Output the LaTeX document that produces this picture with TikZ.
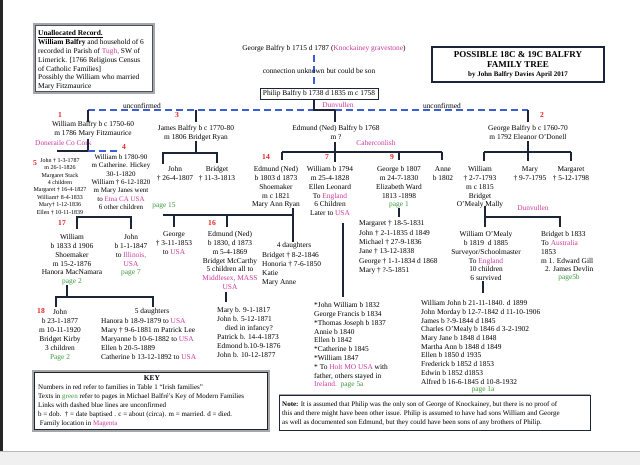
\documentclass[tikz,border=0pt]{standalone}
\usepackage{fontspec}
\setmainfont{Liberation Serif}
\definecolor{lnc}{HTML}{1C2438}
\definecolor{dblue}{HTML}{3A5FD0}
\definecolor{mag}{HTML}{CC3A9E}
\definecolor{grn}{HTML}{3A9A3A}
\definecolor{nred}{HTML}{E02424}
\newcommand{\mgt}[1]{\textcolor{mag}{#1}}
\newcommand{\grt}[1]{\textcolor{grn}{#1}}
\tikzset{
  lnk/.style={draw=lnc, line width=1.9pt},
  unc/.style={draw=dblue, line width=2pt, dash pattern=on 7pt off 4pt},
  tx/.style={inner sep=0pt, font=\fontsize{7.4}{8.8}\selectfont, align=center},
  txl/.style={inner sep=0pt, font=\fontsize{7.4}{8.8}\selectfont, align=left},
  sm/.style={inner sep=0pt, font=\fontsize{6}{7.43}\selectfont, align=center},
  num/.style={inner sep=0pt, text=nred, font=\fontsize{7.6}{8}\selectfont\bfseries},
  kt/.style={inner sep=0pt, font=\fontsize{7}{8.9}\selectfont, align=left},
}
\begin{document}
\begin{tikzpicture}[x=1pt,y=-1pt]
\useasboundingbox (0,0) rectangle (640,465);
\fill[white] (0,0) rectangle (640,465);
\fill[black!85] (0,0) rectangle (2.5,452);
\fill[gray!12] (0,452) rectangle (640,465);
\draw[gray!55, line width=1pt] (0,451.5) -- (640,451.5);

% ---------- unallocated record
\draw[gray!70, line width=1.6pt] (34,24) rectangle (154,93);
\draw[lnc!80, line width=0.5pt] (35.5,25.5) rectangle (152.5,91.5);
\node[txl, font=\fontsize{7.4}{8.83}\selectfont, anchor=north west] (unal) at (38,30.4)
 {\textbf{\underline{Unallocated Record.}}\\\textbf{William Balfry} and household of 6\\recorded in Parish of \mgt{Tugh,} SW of\\Limerick. [1766 Religious Census\\of Catholic Families]\\Possibly the William who married\\Mary Fitzmaurice};

% ---------- title
\draw[lnc, line width=1.2pt] (432,47) rectangle (604,82);
\node[inner sep=0, font=\fontsize{9}{10}\selectfont\bfseries] (t1) at (518,55) {POSSIBLE 18C \& 19C BALFRY};
\node[inner sep=0, font=\fontsize{9}{10}\selectfont\bfseries] (t2) at (518,65) {FAMILY TREE};
\node[inner sep=0, font=\fontsize{7}{8}\selectfont\bfseries] (t3) at (518,75) {by John Balfry Davies April 2017};

% ---------- top generation
\node[tx] (g1715) at (324,49) {George Balfry b 1715 d 1787 (\mgt{Knockainey gravestone})};
\coordinate (gl) at (314,55);
\node[tx, draw=lnc, line width=0.6pt, minimum width=118pt, minimum height=11pt] (philip) at (319,93.5) {Philip Balfry b 1738 d 1835 m c 1758};
\draw[unc] (gl) -- (gl |- philip.north);
\node[tx] (conn) at (319,71) {connection unknown but could be son};
\node[tx, text=mag] (dunv1) at (338,105) {Dunvullen};

\coordinate (h1) at (88,110);
\coordinate (h3) at (196,110);
\coordinate (hp) at (314,110);
\coordinate (he) at (335,110);
\coordinate (h2) at (528,110);
\draw[unc] (h1) -- (hp);
\draw[unc] (he) -- (h2);
\draw[lnk] (philip.south -| hp) -- (hp) -- (he);
\draw[lnk] (h1) -- ++(0,12);
\draw[lnk] (h3) -- ++(0,12);
\draw[lnk] (he) -- ++(0,12);
\draw[lnk] (h2) -- ++(0,12);
\node[tx] (unc1) at (142,106) {unconfirmed};
\node[tx] (unc2) at (442,106) {unconfirmed};

% ---------- family 1
\node[num] (n1) at (60,115) {1};
\node[tx, anchor=north] (f1) at (93,121.4) {William Balfry b c 1750-60\\m 1786 Mary Fitzmaurice};
\node[tx, text=mag, anchor=west] (done) at (35,143) {Doneraile Co Cork};
\coordinate (f1b) at (88,151);
\coordinate (f1t) at (88,139);
\coordinate (f1l) at (57,151);
\coordinate (f1r) at (120,151);
\draw[lnk] (f1t) -- (f1b) -- (f1l);
\draw[unc] (f1b) -- (f1r);
\node[num] (n4) at (124,147) {4};
\node[num] (n5) at (35,163) {5};
\node[sm, anchor=north] (f5a) at (60,157.9) {John † 1-3-1787\\m 26-1-1826\\Margaret Stack\\4 children};
\node[sm, anchor=north] (f5b) at (60,187.6) {Margaret † 16-4-1827\\William† 8-4-1833\\Mary† 1-12-1836\\Ellen † 10-11-1839};
\node[inner sep=0, align=center, font=\fontsize{7}{8.33}\selectfont, anchor=north] (f4) at (121,154.6) {William b 1780-90\\m Catherine. Hickey\\30-1-1820\\William † 6-12-1820\\m Mary Janes went\\to \mgt{Etna CA USA}\\6 other children};

% ---------- family 17
\node[num] (n17) at (62,223) {17};
\coordinate (b17l) at (77,217);
\coordinate (b17r) at (131,217);
\coordinate (b17ld) at (77,229);
\coordinate (b17rd) at (131,229);
\draw[lnk] (b17ld) -- (b17l) -- (b17r) -- (b17rd);
\node[tx, anchor=north] (w17) at (72,234.4) {William\\b 1833 d 1906\\Shoemaker\\m 15-2-1876\\Hanora MacNamara\\\grt{page 2}};
\node[tx, anchor=north] (j17) at (131,234.4) {John\\b 1-1-1847\\to \mgt{Illinois,}\\\mgt{USA}\\\grt{page 7}};

% ---------- family 18
\coordinate (b18t) at (67,285);
\coordinate (b18m) at (67,297);
\coordinate (b18l) at (56,297);
\coordinate (b18r) at (153,297);
\coordinate (b18ld) at (56,307);
\coordinate (b18rd) at (153,307);
\draw[lnk] (b18t) -- (b18m);
\draw[lnk] (b18ld) -- (b18l) -- (b18r) -- (b18rd);
\node[num] (n18) at (41,311) {18};
\node[tx, font=\fontsize{7.4}{9}\selectfont, anchor=north] (j18) at (60,309.4) {John\\b 23-1-1877\\m 10-11-1920\\Bridget Kirby\\3 children\\\grt{Page 2}};
\node[tx] (d5) at (152,312) {5 daughters};
\node[txl, font=\fontsize{7.4}{9}\selectfont, anchor=north west] (d5l) at (101,318.4) {Hanora b 18-9-1879 to \mgt{USA}\\Mary † 9-6-1881 m Patrick Lee\\Maryanne b 10-6-1882 to \mgt{USA}\\Ellen b 20-5-1889\\Catherine b 13-12-1892 to \mgt{USA}};

% ---------- key
\draw[gray!70, line width=1.4pt] (33,371) rectangle (269,431);
\draw[lnc, line width=0.7pt] (34.5,372.5) rectangle (267.5,429.5);
\node[inner sep=0, font=\fontsize{7.4}{8}\selectfont\bfseries] (key) at (152,378) {KEY};
\node[kt, anchor=north west] (keyt) at (38,384.6) {Numbers in red refer to families in Table 1 “Irish families”\\Texts in \grt{green} refer to pages in Michael Balfré’s Key of Modern Families\\Links with dashed blue lines are unconfirmed\\b = dob.\ \ † = date baptised . c = about (circa). m = married. d = died.\\\ Family location in \mgt{Magenta}};

% ---------- family 3
\node[num] (n3) at (177,115) {3};
\node[tx, anchor=north] (f3) at (196,125.4) {James Balfry b c 1770-80\\m 1806 Bridget Ryan};
\coordinate (b3t) at (196,141);
\coordinate (b3m) at (196,153);
\coordinate (b3l) at (163,153);
\coordinate (b3r) at (217,153);
\coordinate (b3ld) at (163,164);
\coordinate (b3rd) at (217,163);
\draw[lnk] (b3t) -- (b3m);
\draw[lnk] (b3ld) -- (b3l) -- (b3r) -- (b3rd);
\node[tx, anchor=north] (j3) at (175,166.4) {John\\† 26-4-1807};
\node[tx, anchor=north] (br3) at (217,166.4) {Bridget\\† 11-3-1813};
\node[tx, text=grn] (p15) at (164,206) {page 15};

% ---------- family 14 / 16
\node[num] (n14) at (266,157) {14};
\node[tx, anchor=north] (e14) at (276,166.4) {Edmund (Ned)\\b 1803 d 1873\\Shoemaker\\m c 1821\\Mary Ann Ryan};
\coordinate (b14t) at (293,208);
\coordinate (b14m) at (293,215);
\coordinate (b14b) at (293,242);
\coordinate (b14l) at (163,215);
\coordinate (b14g) at (174,215);
\coordinate (b14gd) at (174,227);
\coordinate (b14e) at (227,215);
\coordinate (b14ed) at (227,227);
\draw[lnk] (b14t) -- (b14b);
\draw[lnk] (b14l) -- (b14m);
\draw[lnk] (b14g) -- (b14gd);
\draw[lnk] (b14e) -- (b14ed);
\node[tx, anchor=north] (g14) at (174,231.4) {George\\† 3-11-1853\\to \mgt{USA}};
\node[num] (n16) at (212,223) {16};
\node[tx, anchor=north] (e16) at (230,231.4) {Edmund (Ned)\\b 1830, d 1873\\m 5-4-1869\\Bridget McCarthy\\5 children all to\\\mgt{Middlesex, MASS}\\\mgt{USA}};
\coordinate (b16t) at (226,292);
\coordinate (b16b) at (226,302);
\draw[lnk] (b16t) -- (b16b);
\node[txl, font=\fontsize{7.4}{9}\selectfont, anchor=north west] (m16) at (217,307.4) {Mary b. 9-1-1817\\John b. 5-12-1871\\\hspace*{8pt}died in infancy?\\Patrick b. 14-4-1873\\Edmond b.10-9-1876\\John b. 10-12-1877};
\node[tx] (d4) at (294,246) {4 daughters};
\node[txl, anchor=north west] (d4l) at (262,252.4) {Bridget † 8-2-1846\\Honoria † 7-6-1850\\Katie\\Mary Anne};

% ---------- Edmund 1768
\node[tx, anchor=north] (e1768) at (336,125.4) {Edmund (Ned) Balfry b 1768\\m ?};
\node[tx, text=mag] (cah) at (376,143) {Caherconlish};
\coordinate (be0) at (335,142);
\coordinate (be1) at (282,152);
\coordinate (be2) at (335,152);
\coordinate (be3) at (399,152);
\coordinate (be4) at (442,152);
\draw[lnk] (be1) -- (be4);
\draw[lnk] (be0) -- (be2);
\draw[lnk] (be1) -- ++(0,8);
\draw[lnk] (be2) -- ++(0,10);
\draw[lnk] (be3) -- ++(0,8);
\draw[lnk] (be4) -- ++(0,8);
\node[num] (n7) at (327,157) {7};
\node[tx, anchor=north] (w7) at (330,166.4) {William b 1794\\m 25-4-1828\\Ellen Leonard\\To \mgt{England}\\6 Children\\Later to \mgt{USA}};
\coordinate (b7t) at (343,223);
\coordinate (b7b) at (343,297);
\draw[lnk] (b7t) -- (b7b);
\node[txl, anchor=north west] (l7) at (314,302.4) {*John William b 1832\\George Francis b 1834\\*Thomas Joseph b 1837\\Annie b 1840\\Ellen b 1842\\*Catherine b 1845\\*William 1847\\* To \mgt{Holt MO USA} with\\father, others stayed in\\\mgt{Ireland.}\ \ \grt{page 5a}};
\node[num] (n9) at (392,157) {9};
\node[tx, anchor=north] (g9) at (399,166.4) {George b 1807\\m 24-7-1830\\Elizabeth Ward\\1813 -1898\\\grt{page 1}};
\coordinate (b9t) at (399,208);
\coordinate (b9b) at (399,217);
\draw[lnk] (b9t) -- (b9b);
\node[txl, font=\fontsize{7.4}{9.4}\selectfont, anchor=north west] (l9) at (359,220.4) {Margaret † 18-5-1831\\John † 2-1-1835 d 1849\\Michael † 27-9-1836\\Jane † 13-12-1838\\George † 1-1-1834 d 1868\\Mary † ?-5-1851};
\node[tx, anchor=north] (anne) at (443,166.4) {Anne\\b 1802};

% ---------- family 2
\node[num] (n2) at (542,115) {2};
\node[tx, anchor=north] (f2) at (528,125.4) {George Balfry b c 1760-70\\m 1792 Eleanor O’Donell};
\coordinate (b2t) at (528,141);
\coordinate (b2m) at (528,152);
\coordinate (b2l) at (484,152);
\coordinate (b2r) at (571,152);
\draw[lnk] (b2t) -- (b2m);
\draw[lnk] (b2l) -- (b2r);
\draw[lnk] (b2l) -- ++(0,9);
\draw[lnk] (b2m) -- ++(0,9);
\draw[lnk] (b2r) -- ++(0,9);
\node[tx, anchor=north] (w2) at (480,166.4) {William\\† 2-7-1793\\m c 1815\\Bridget\\O’Mealy Mally};
\node[tx, anchor=north] (m2) at (530,166.4) {Mary\\† 9-7-1795};
\node[tx, anchor=north] (mg2) at (571,166.4) {Margaret\\† 5-12-1798};
\node[tx, text=mag] (dunv2) at (533,208) {Dunvullen};
\coordinate (bwt) at (485,206);
\coordinate (bwm) at (485,217);
\coordinate (bwd) at (485,227);
\coordinate (bwr) at (560,217);
\coordinate (bwrd) at (560,227);
\draw[lnk] (bwt) -- (bwd);
\draw[lnk] (bwm) -- (bwr) -- (bwrd);
\node[tx, anchor=north] (wo) at (486,231.4) {William O’Mealy\\b 1819\ \ d 1885\\Surveyor/Schoolmaster\\To \mgt{England}\\10 children\\6 survived};
\coordinate (bot) at (483,281);
\coordinate (bob) at (483,293);
\draw[lnk] (bot) -- (bob);
\node[txl, anchor=north west] (b33) at (541,231.4) {Bridget b 1833\\To \mgt{Australia}\\1853\\m 1. Edward Gill\\\hspace*{4pt}2. James Devlin};
\node[tx, text=grn] (p5b) at (569,278) {page5b};
\node[txl, font=\fontsize{7.4}{8.7}\selectfont, anchor=north west] (lwo) at (421,300.4) {William John b 21-11-1840. d 1899\\John Morday b 12-7-1842 d 11-10-1906\\James b ?-9-1844 d 1845\\Charles O’Mealy b 1846 d 3-2-1902\\Mary Jane b 1848 d 1848\\Martha Ann b 1848 d 1849\\Ellen b 1850 d 1935\\Frederick b 1852 d 1853\\Edwin b 1852 d1853\\Alfred b 16-6-1845 d 10-8-1932};
\node[tx, text=grn] (p1a) at (483,390) {page 1a};

% ---------- note
\draw[gray!70, line width=1.4pt] (279,394.5) -- (590,394.5);
\draw[lnc, line width=0.8pt] (279,395) rectangle (590,430);
\node[kt, font=\fontsize{7}{9}\selectfont, anchor=north west] (note) at (282,401.4) {\textbf{Note:} It is assumed that Philip was the only son of George of Knockainey, but there is no proof of\\this and there might have been other issue. Philip is assumed to have had sons William and George\\as well as documented son Edmund, but they could have been sons of any brothers of Philip.};
\end{tikzpicture}
\end{document}
